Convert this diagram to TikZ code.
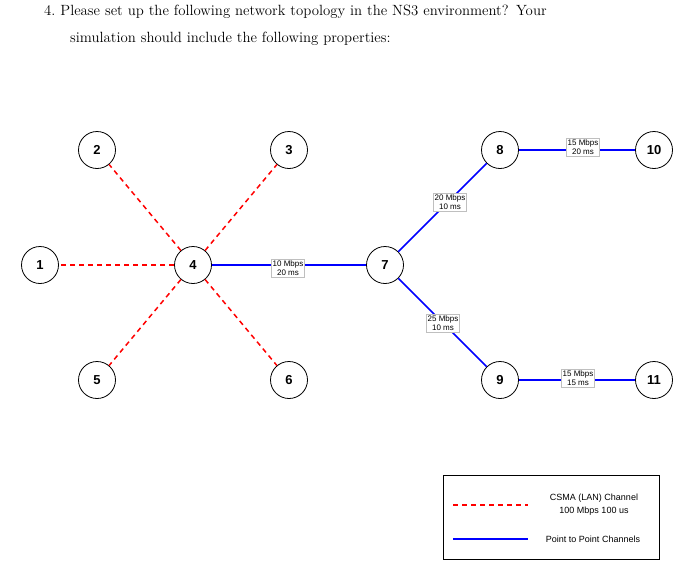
\documentclass[tikz,border=0pt]{standalone}
\usepackage{fontspec}
\newfontfamily\arialf{Liberation Sans}
\definecolor{myred}{RGB}{255,0,0}
\definecolor{myblue}{RGB}{0,0,255}
\begin{document}
\begin{tikzpicture}[x=1pt,y=-1pt,
  nd/.style={circle,draw=black,thick,minimum size=37pt,inner sep=0pt,font=\arialf\bfseries\fontsize{13}{14}\selectfont},
  csma/.style={draw=myred,line width=1.5pt,dash pattern=on 5pt off 4pt},
  p2p/.style={draw=myblue,line width=1.6pt},
  lbl/.style={fill=white,draw=black!25,inner sep=1.2pt,align=center,font=\arialf\fontsize{8}{9.5}\selectfont}]
\useasboundingbox (0,0) rectangle (693,584);
\node[anchor=north west,text width=640pt,align=left,inner sep=0pt,font=\fontsize{14.8}{27}\selectfont] (title) at (44,5)
 {4.\ Please set up the following network topology in the NS3 environment? Your\\\hspace*{26pt}simulation should include the following properties:};
\node[nd] (n1) at (40,265) {1};
\node[nd] (n2) at (97,150) {2};
\node[nd] (n3) at (289,150) {3};
\node[nd] (n4) at (193,265) {4};
\node[nd] (n5) at (97,380) {5};
\node[nd] (n6) at (289,380) {6};
\node[nd] (n7) at (385,265) {7};
\node[nd] (n8) at (500,150) {8};
\node[nd] (n9) at (500,380) {9};
\node[nd] (n10) at (654,150) {10};
\node[nd] (n11) at (654,380) {11};
\draw[csma] (n4) -- (n1);
\draw[csma] (n4) -- (n2);
\draw[csma] (n4) -- (n3);
\draw[csma] (n4) -- (n5);
\draw[csma] (n4) -- (n6);
\draw[p2p] (n4) -- (n7);
\draw[p2p] (n7) -- (n8);
\draw[p2p] (n7) -- (n9);
\draw[p2p] (n8) -- (n10);
\draw[p2p] (n9) -- (n11);
\node[lbl] (l1) at (288,268) {10 Mbps\\20 ms};
\node[lbl] (l2) at (450,202) {20 Mbps\\10 ms};
\node[lbl] (l3) at (443,323) {25 Mbps\\10 ms};
\node[lbl] (l4) at (583,147) {15 Mbps\\20 ms};
\node[lbl] (l5) at (578,378) {15 Mbps\\15 ms};
\node[draw=black,thick,minimum width=216pt,minimum height=84pt,anchor=north west] (leg) at (443,475) {};
\coordinate (a1) at (453,505); \coordinate (a2) at (528,505);
\coordinate (b1) at (453,539); \coordinate (b2) at (528,539);
\draw[csma] (a1) -- (a2);
\draw[p2p] (b1) -- (b2);
\node[align=center,font=\arialf\fontsize{9}{13}\selectfont] (t1) at (594,505) {CSMA (LAN) Channel\\100 Mbps 100 us};
\node[font=\arialf\fontsize{9}{11}\selectfont] (t2) at (593,539) {Point to Point Channels};
\end{tikzpicture}
\end{document}
